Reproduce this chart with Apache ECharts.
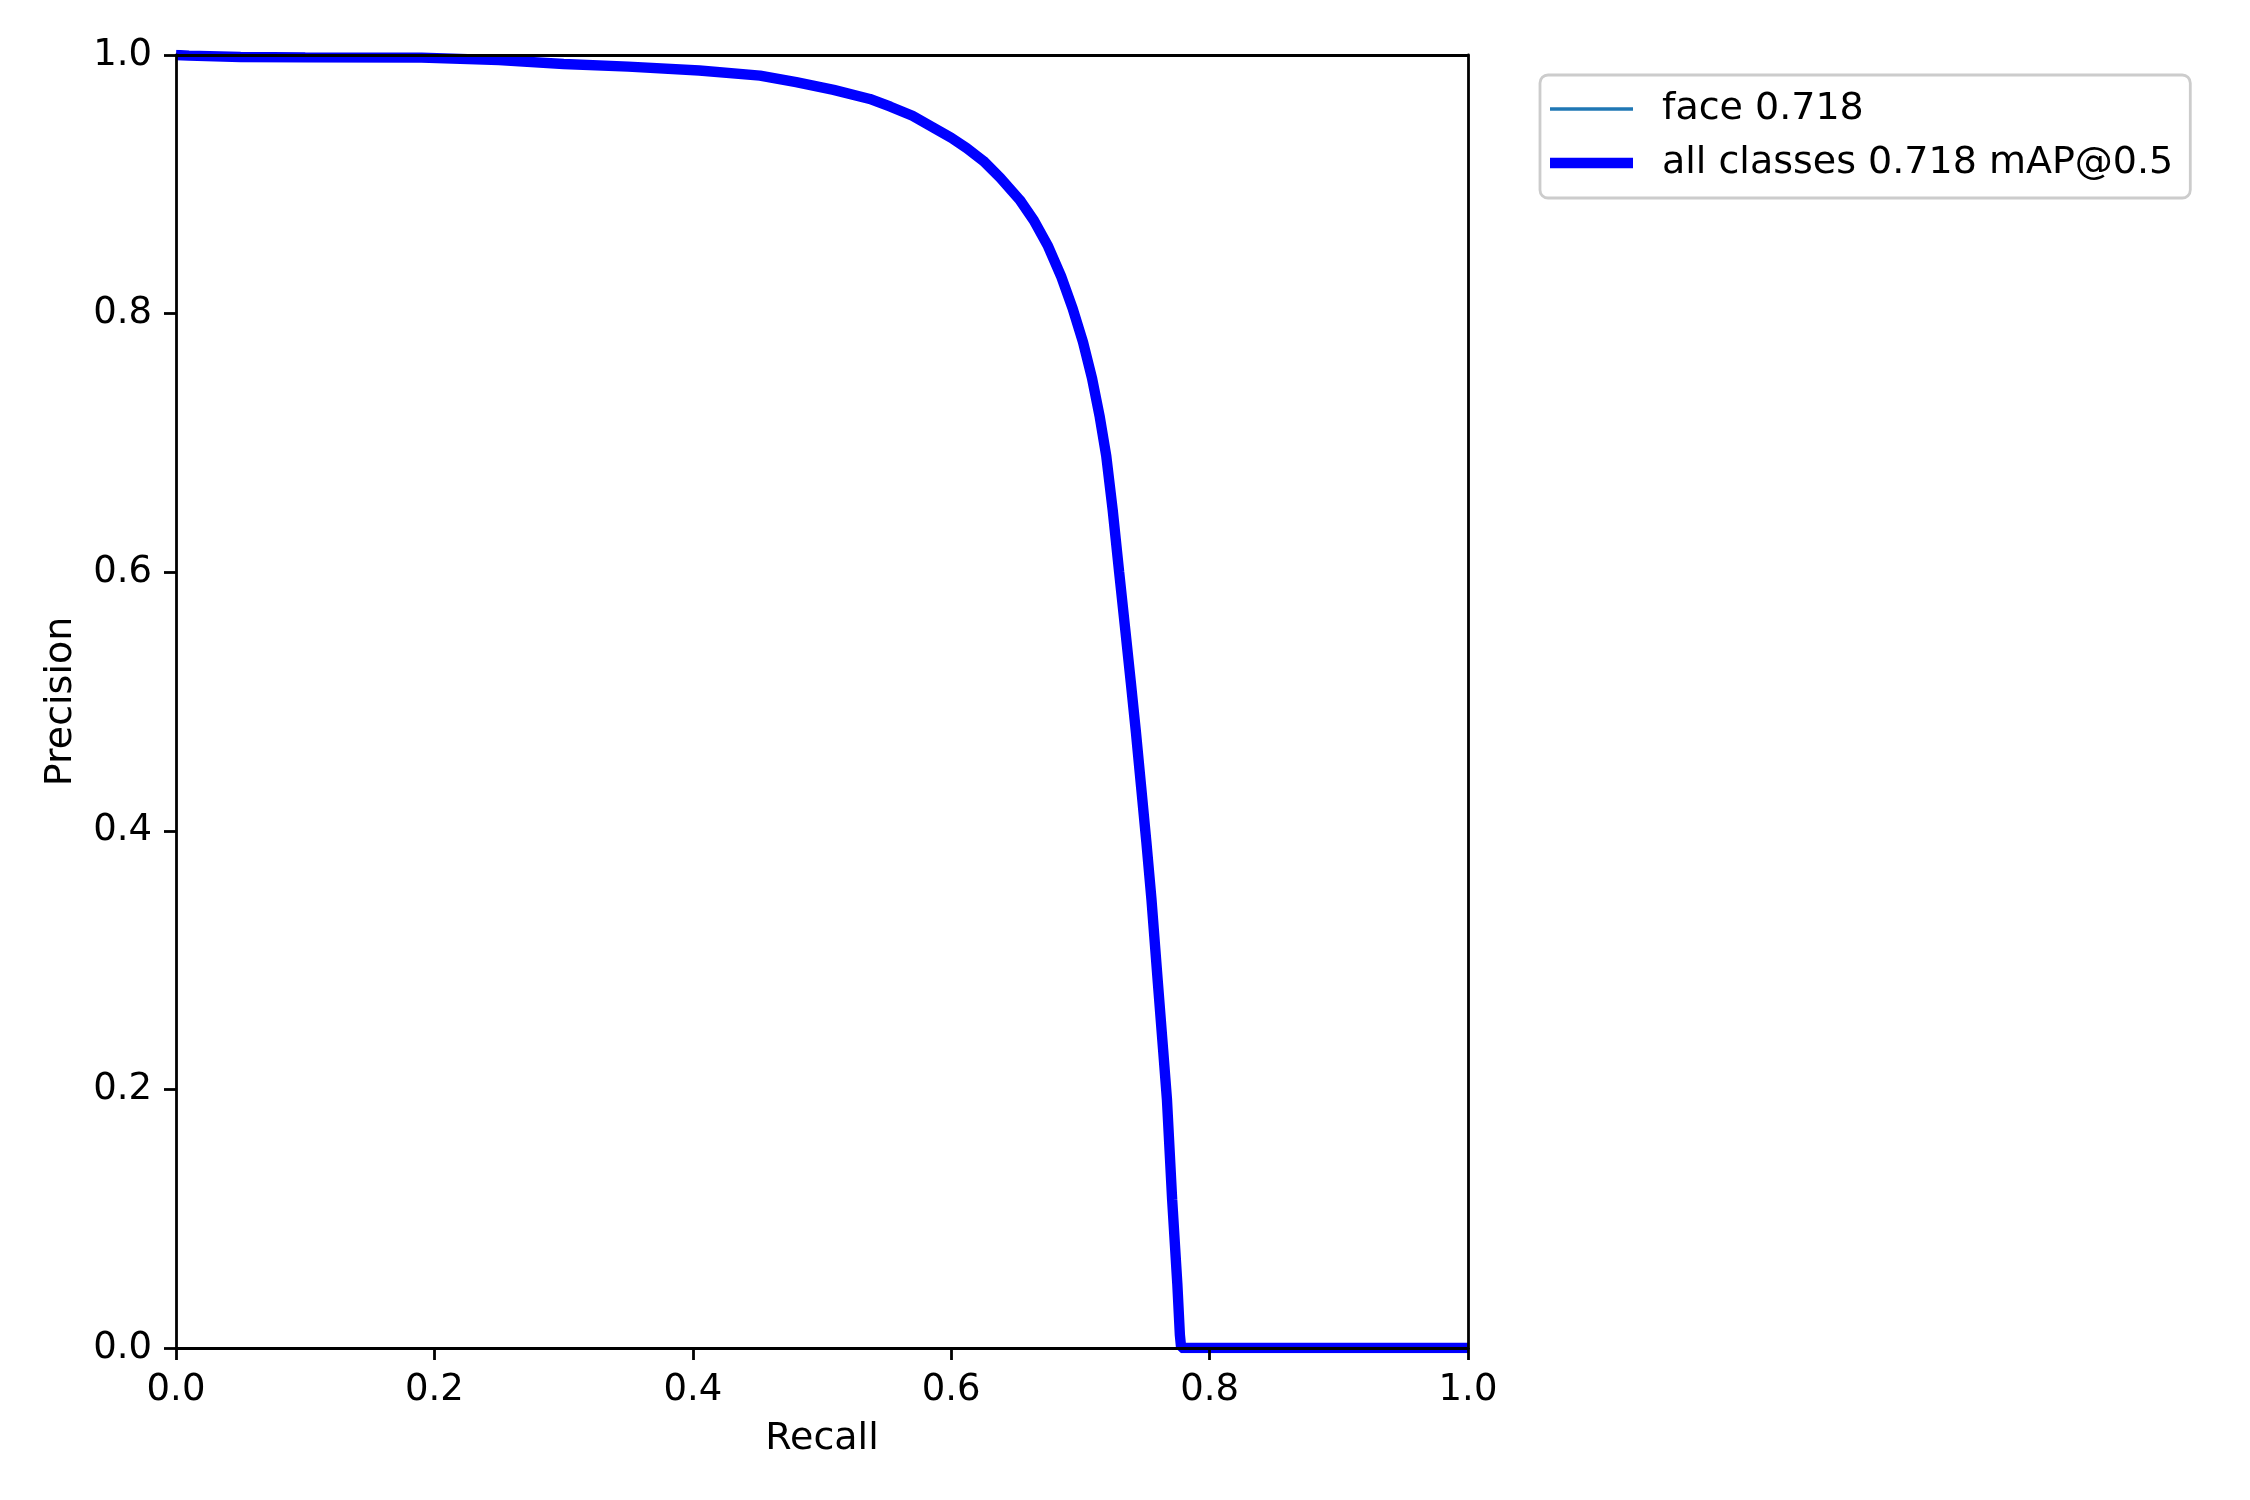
<!DOCTYPE html>
<html>
<head>
<meta charset="utf-8">
<script src="https://cdn.jsdelivr.net/npm/echarts@6/dist/echarts.min.js"></script>
<style>
html,body{margin:0;padding:0;background:#fff;}
#chart{width:2250px;height:1500px;}
</style>
</head>
<body>
<div id="chart"></div>
<script>
const recall = [0, 0.01, 0.05, 0.10, 0.19, 0.25, 0.30, 0.35, 0.405, 0.452, 0.48, 0.509, 0.537, 0.553, 0.57, 0.586, 0.60, 0.612, 0.625, 0.638, 0.653, 0.664, 0.675, 0.685, 0.694, 0.702, 0.709, 0.715, 0.720, 0.725, 0.730, 0.735, 0.739, 0.743, 0.747, 0.751, 0.755, 0.760, 0.764, 0.767, 0.771, 0.775, 0.777, 0.778, 1.0];
const precision = [1.0, 0.9995, 0.9985, 0.9982, 0.998, 0.996, 0.993, 0.991, 0.988, 0.984, 0.979, 0.973, 0.966, 0.960, 0.953, 0.944, 0.936, 0.928, 0.918, 0.905, 0.888, 0.872, 0.852, 0.829, 0.804, 0.778, 0.750, 0.720, 0.690, 0.648, 0.600, 0.553, 0.515, 0.476, 0.434, 0.392, 0.347, 0.282, 0.231, 0.192, 0.115, 0.05, 0.01, 0, 0];
const seriesNames = ['face 0.718', 'all classes 0.718 mAP@0.5'];
const xTitle = 'Recall';
const yTitle = 'Precision';

const pts = recall.map((r, i) => [r, precision[i]]);
const FONT = 'DejaVu Sans';
const FS_TICK = 37;
const FS = 38;
const LW = 2.8;

const chart = echarts.init(document.getElementById('chart'), null, {renderer: 'canvas'});
const fmt = v => v.toFixed(1);
chart.setOption({
  backgroundColor: '#ffffff',
  animation: false,
  textStyle: {fontFamily: FONT},
  grid: {left: 176, top: 55, width: 1292, height: 1293, containLabel: false},
  legend: {
    orient: 'vertical',
    left: 1540, top: 75,
    padding: [15, 17, 16, 10],
    itemWidth: 83, itemHeight: 40, itemGap: 16,
    backgroundColor: 'rgba(255,255,255,0.8)',
    borderColor: '#cccccc', borderWidth: 2.8, borderRadius: 8,
    lineStyle: {opacity: 0},
    textStyle: {fontFamily: FONT, fontSize: FS, color: '#000', padding: [0, 0, 0, 24]},
    data: [
      {name: seriesNames[0], icon: 'path://M0,0 L83,0 L83,3.5 L0,3.5 Z', itemStyle: {color: '#1f77b4'}},
      {name: seriesNames[1], icon: 'path://M0,0 L83,0 L83,10.4 L0,10.4 Z', itemStyle: {color: '#0000ff'}}
    ]
  },
  xAxis: [{
    type: 'value', min: 0, max: 1, interval: 0.2, position: 'bottom', z: 5,
    name: xTitle, nameLocation: 'middle', nameGap: 72,
    nameTextStyle: {fontFamily: FONT, fontSize: FS, color: '#000'},
    axisLine: {show: true, onZero: false, lineStyle: {color: '#000', width: LW}},
    axisTick: {show: true, length: 12, lineStyle: {color: '#000', width: LW}},
    axisLabel: {fontFamily: FONT, fontSize: FS_TICK, color: '#000', margin: 24, formatter: fmt},
    splitLine: {show: false}
  }, {
    type: 'value', min: 0, max: 1, position: 'top', z: 5,
    axisLine: {show: true, onZero: false, lineStyle: {color: '#000', width: LW}},
    axisTick: {show: false}, axisLabel: {show: false}, splitLine: {show: false}
  }],
  yAxis: [{
    type: 'value', min: 0, max: 1, interval: 0.2, position: 'left', z: 5,
    name: yTitle, nameLocation: 'middle', nameGap: 96, nameRotate: 90,
    nameTextStyle: {fontFamily: FONT, fontSize: FS, color: '#000'},
    axisLine: {show: true, onZero: false, lineStyle: {color: '#000', width: LW}},
    axisTick: {show: true, length: 12, lineStyle: {color: '#000', width: LW}},
    axisLabel: {fontFamily: FONT, fontSize: FS_TICK, color: '#000', margin: 24, formatter: fmt},
    splitLine: {show: false}
  }, {
    type: 'value', min: 0, max: 1, position: 'right', z: 5,
    axisLine: {show: true, onZero: false, lineStyle: {color: '#000', width: LW}},
    axisTick: {show: false}, axisLabel: {show: false}, splitLine: {show: false}
  }],
  series: [{
    name: seriesNames[0], type: 'line', data: pts, showSymbol: false, symbol: 'none',
    xAxisIndex: 0, yAxisIndex: 0, clip: true,
    color: '#1f77b4', lineStyle: {color: '#1f77b4', width: 3.5}
  }, {
    name: seriesNames[1], type: 'line', data: pts, showSymbol: false, symbol: 'none',
    xAxisIndex: 0, yAxisIndex: 0, clip: true,
    color: '#0000ff', lineStyle: {color: '#0000ff', width: 10.4}
  }]
});
</script>
</body>
</html>
